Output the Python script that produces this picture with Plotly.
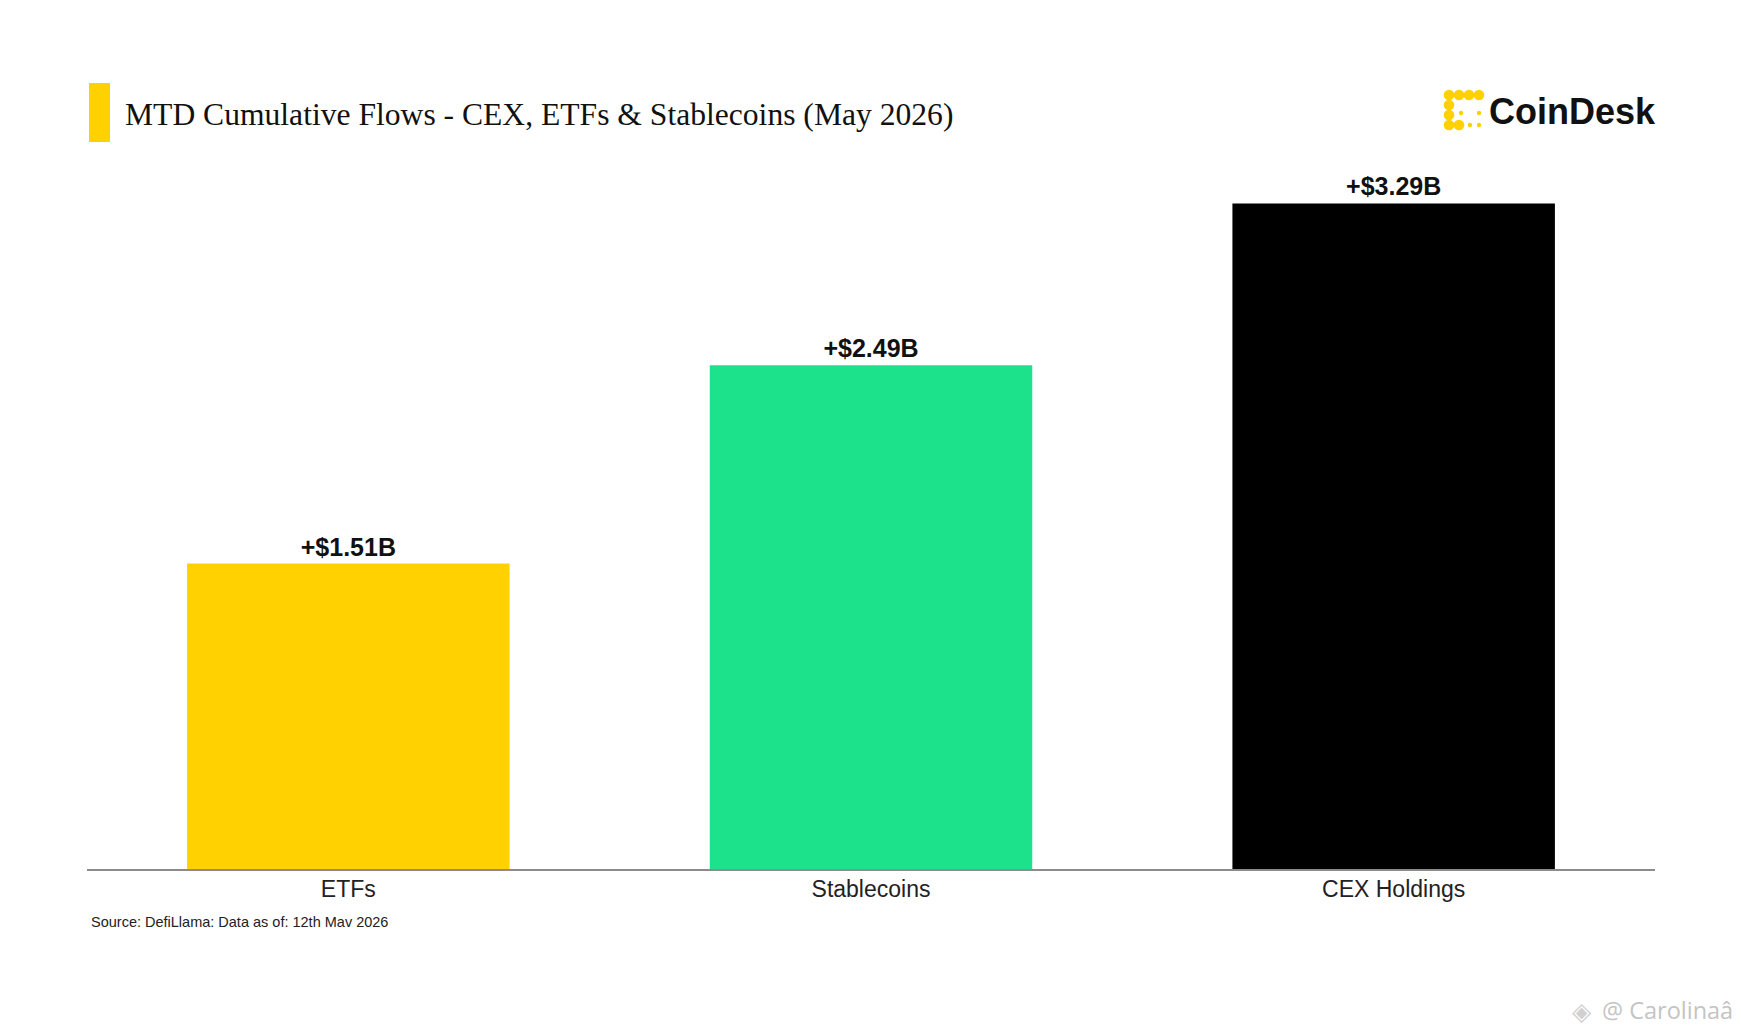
import plotly.graph_objects as go

# ---- data ----
categories = ["ETFs", "Stablecoins", "CEX Holdings"]
values = [1.51, 2.49, 3.29]
value_labels = ["+$1.51B", "+$2.49B", "+$3.29B"]
bar_colors = ["#FFD100", "#1BE28B", "#000000"]

title_text = "MTD Cumulative Flows - CEX, ETFs & Stablecoins (May 2026)"
source_text = "Source: DefiLlama: Data as of: 12th Mav 2026"
brand_text = "CoinDesk"
watermark_text = "@ Carolinaâ"

# ---- layout geometry (page pixels; page body has an 8px margin) ----
OFF = 8
W, H = 1741 - 2 * OFF, 1036 - 2 * OFF
L, R, T, B = 87, 1655, 161, 869  # plot area in page pixels


def px_x(p):
    return (p - L) / (R - L)


def px_y(p):
    return (B - p) / (B - T)


fig = go.Figure()
fig.add_trace(go.Bar(
    x=categories,
    y=values,
    marker=dict(color=bar_colors, line=dict(width=0)),
    text=value_labels,
    texttemplate="<b>%{text}</b>",
    textposition="outside",
    constraintext="none",
    cliponaxis=False,
    textfont=dict(family="Liberation Sans, Arial, sans-serif", size=25, color="#111111"),
    hoverinfo="skip",
))

shapes = []
# yellow title accent bar
shapes.append(dict(type="rect", xref="paper", yref="paper",
                   x0=px_x(89), x1=px_x(110), y0=px_y(142), y1=px_y(83),
                   fillcolor="#FFD100", line=dict(width=0), layer="above"))

# CoinDesk logo dots
big = [(1449, 95), (1459, 95), (1469, 95), (1479, 95),
       (1449, 105), (1449, 115), (1449, 125), (1459, 125)]
small = [(1461, 113), (1479, 113), (1470, 125), (1479, 125)]
for (cx, cy) in big:
    r = 5.3
    shapes.append(dict(type="circle", xref="paper", yref="paper",
                       x0=px_x(cx - r), x1=px_x(cx + r), y0=px_y(cy + r), y1=px_y(cy - r),
                       fillcolor="#FFD100", line=dict(width=0), layer="above"))
for (cx, cy) in small:
    r = 2.2
    shapes.append(dict(type="circle", xref="paper", yref="paper",
                       x0=px_x(cx - r), x1=px_x(cx + r), y0=px_y(cy + r), y1=px_y(cy - r),
                       fillcolor="#FFD100", line=dict(width=0), layer="above"))

annotations = [
    dict(text=title_text, xref="paper", yref="paper", x=px_x(123), y=px_y(114),
         xanchor="left", yanchor="middle", showarrow=False,
         font=dict(family="Liberation Serif, Times New Roman, serif", size=31.6, color="#111111")),
    dict(text="<b>" + brand_text + "</b>", xref="paper", yref="paper", x=px_x(1487), y=px_y(111),
         xanchor="left", yanchor="middle", showarrow=False,
         font=dict(family="Liberation Sans, Arial, sans-serif", size=36, color="#111111")),
    dict(text=source_text, xref="paper", yref="paper", x=px_x(89), y=px_y(922),
         xanchor="left", yanchor="middle", showarrow=False,
         font=dict(family="Liberation Sans, Arial, sans-serif", size=14.5, color="#222222")),
    dict(text="◈", xref="paper", yref="paper", x=px_x(1582), y=px_y(1011),
         xanchor="center", yanchor="middle", showarrow=False,
         font=dict(family="DejaVu Sans", size=25, color="#d0d0d0")),
    dict(text=watermark_text, xref="paper", yref="paper", x=px_x(1600), y=px_y(1010),
         xanchor="left", yanchor="middle", showarrow=False,
         font=dict(family="Open Sans, sans-serif", size=23.5, color="#c4c4c4")),
]

fig.update_layout(
    width=W, height=H,
    margin=dict(l=L - OFF, r=(1741 - OFF) - R, t=T - OFF, b=(1036 - OFF) - B, pad=0),
    paper_bgcolor="white",
    plot_bgcolor="white",
    bargap=0.383,
    showlegend=False,
    shapes=shapes,
    annotations=annotations,
    xaxis=dict(
        showline=True, linecolor="#8c8c8c", linewidth=2,
        showgrid=False, zeroline=False, ticks="",
        ticklabelstandoff=-2,
        tickfont=dict(family="Liberation Sans, Arial, sans-serif", size=23, color="#222222"),
        fixedrange=True,
    ),
    yaxis=dict(
        range=[0, 3.5], visible=False, showgrid=False, zeroline=False, fixedrange=True,
    ),
)

fig.write_html("out.html")
